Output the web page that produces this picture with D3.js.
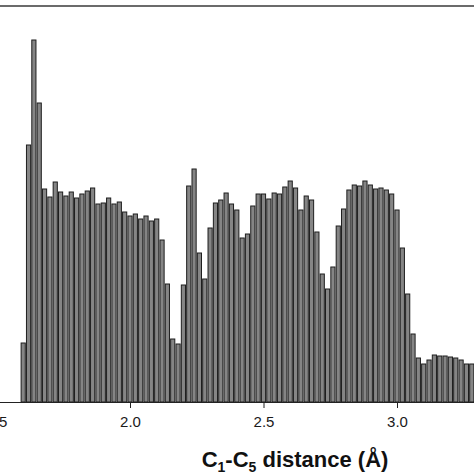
<!DOCTYPE html>
<html>
<head>
<meta charset="utf-8">
<script src="https://cdn.jsdelivr.net/npm/d3@7"></script>
<style>
  html, body { margin: 0; padding: 0; background: #fff; }
  svg { display: block; font-family: "Liberation Sans", Arial, sans-serif; }
</style>
</head>
<body>
<div id="chart"></div>
<script>
// Histogram of C1-C5 distances, bins of 0.02 Å starting at 1.60 Å
const binStart = 1.60;
const binWidth = 0.02;
// bar heights (arbitrary units)
const counts = [
  59, 257, 362, 299, 213, 205, 220, 210, 206, 210,
  204, 208, 211, 214, 198, 199, 204, 198, 200, 190,
  186, 188, 183, 186, 181, 183, 162, 118, 63, 58,
  117, 216, 233, 149, 123, 174, 199, 202, 209, 198,
  192, 164, 168, 196, 208, 208, 203, 209, 208, 215,
  221, 214, 192, 206, 202, 170, 128, 113, 135, 176,
  193, 212, 217, 216, 221, 217, 213, 214, 212, 208,
  192, 154, 108, 68, 44, 38, 42, 47, 46, 46,
  45, 44, 42, 38, 38, 37
];
const xTicks = [1.5, 2.0, 2.5, 3.0];
const yMax = 396;

const width = 474, height = 474;

const svg = d3.select("#chart")
  .append("svg")
  .attr("width", width)
  .attr("height", height);

// Scales
const x = d3.scaleLinear()
  .domain([1.5, 3.5])
  .range([-3.5, 530.5]);

const y = d3.scaleLinear()
  .domain([0, yMax])
  .range([402, 6]);

const bins = counts.map((c, i) => ({ center: binStart + i * binWidth, value: c }));
const barW = (x(binWidth) - x(0)) * 0.78;

// Bars
svg.append("g")
  .selectAll("rect")
  .data(bins)
  .enter()
  .append("rect")
  .attr("x", d => x(d.center) - barW / 2)
  .attr("y", d => y(d.value))
  .attr("width", barW)
  .attr("height", d => y(0) - y(d.value))
  .attr("fill", "#858585")
  .attr("stroke", "#1e1e1e")
  .attr("stroke-width", 1);

// Top frame line
svg.append("line")
  .attr("x1", 0).attr("x2", width)
  .attr("y1", y(yMax)).attr("y2", y(yMax))
  .attr("stroke", "#3a3a3a")
  .attr("stroke-width", 1.6);

// X axis
const xAxis = svg.append("g")
  .attr("transform", `translate(0,${y(0)})`)
  .call(d3.axisBottom(x)
    .tickValues(xTicks)
    .tickFormat(d3.format(".1f"))
    .tickSize(6)
    .tickPadding(8));

xAxis.select(".domain")
  .attr("stroke", "#222")
  .attr("stroke-width", 1);
xAxis.selectAll(".tick line").attr("stroke", "#222");
xAxis.selectAll(".tick text")
  .attr("font-size", "15px")
  .attr("fill", "#1a1a1a");

// Axis title with subscripts
const title = svg.append("text")
  .attr("x", 295)
  .attr("y", 467)
  .attr("text-anchor", "middle")
  .attr("font-size", "22px")
  .attr("font-weight", "bold")
  .attr("fill", "#111");
title.append("tspan").text("C");
title.append("tspan").attr("font-size", "14px").attr("dy", 5).text("1");
title.append("tspan").attr("dy", -5).text("-C");
title.append("tspan").attr("font-size", "14px").attr("dy", 5).text("5");
title.append("tspan").attr("dy", -5).text(" distance (Å)");
</script>
</body>
</html>
